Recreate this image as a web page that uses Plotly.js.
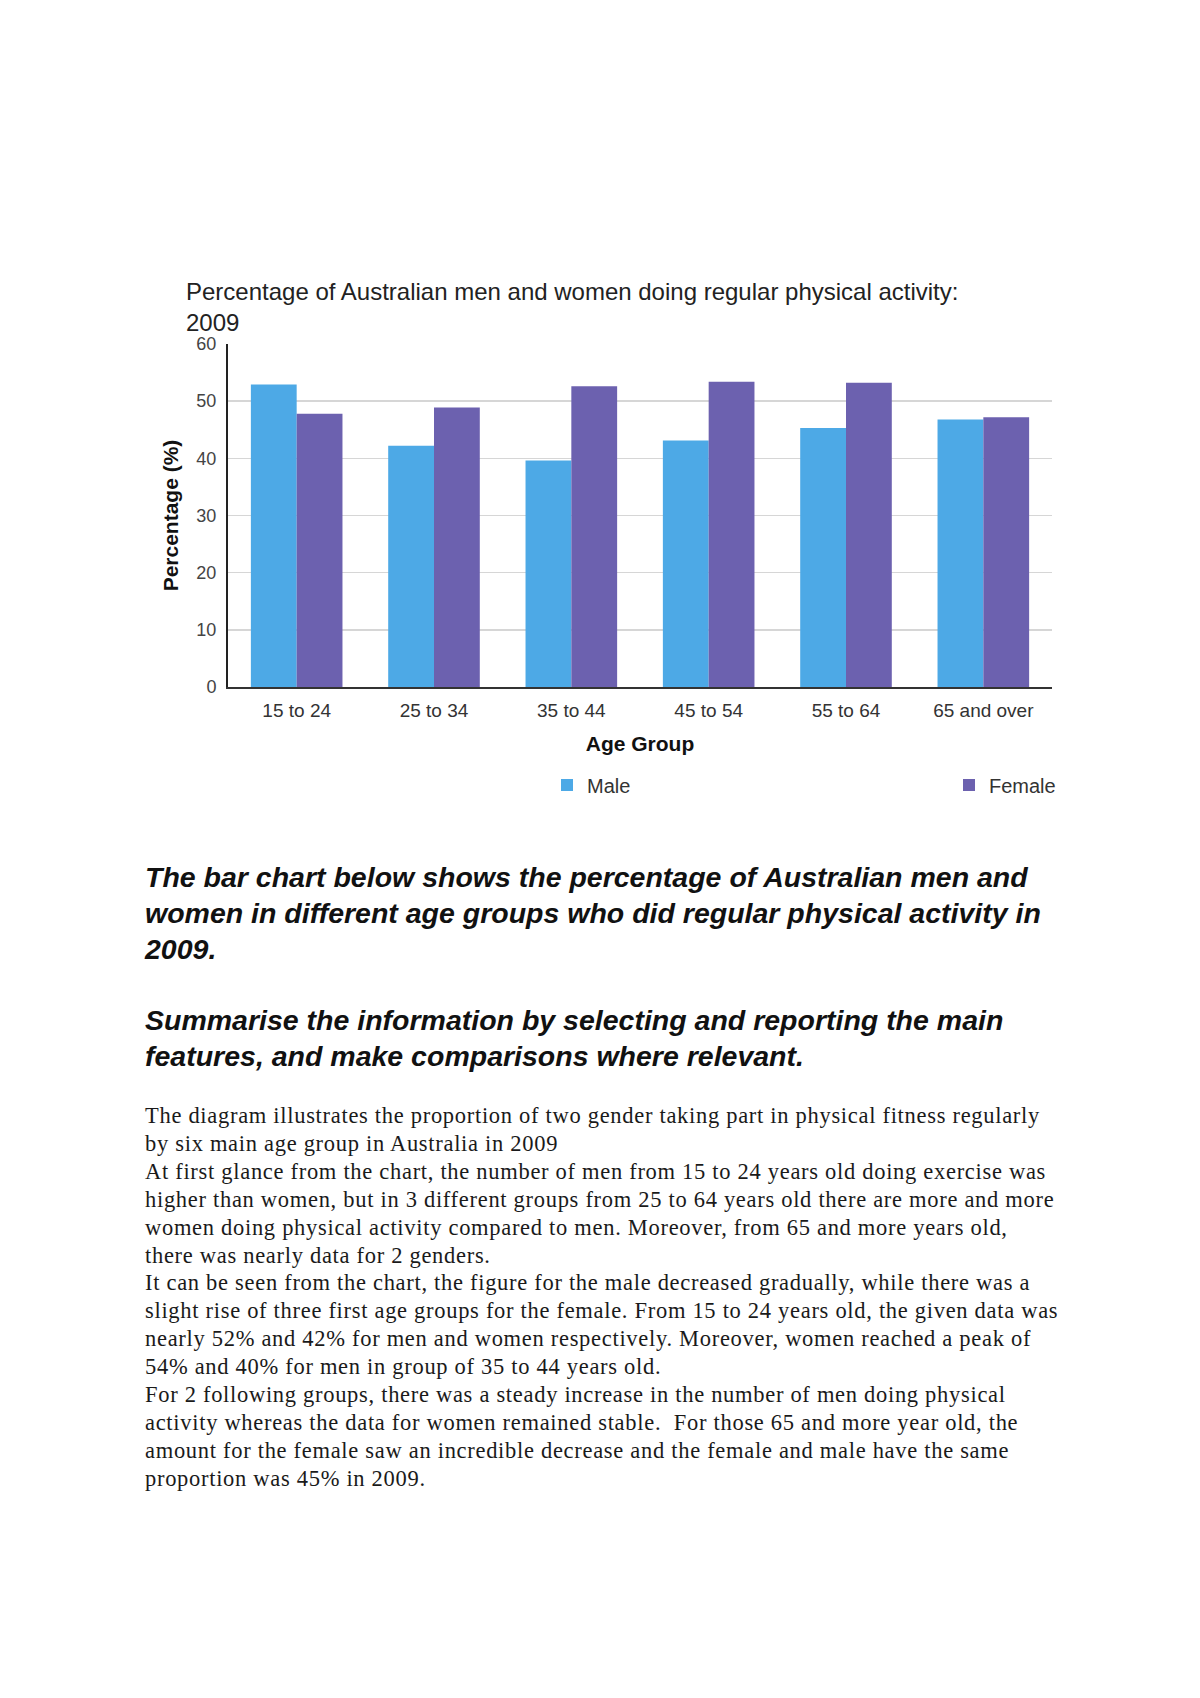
<!DOCTYPE html>
<html>
<head>
<meta charset="utf-8">
<script src="https://cdn.plot.ly/plotly-3.0.1.min.js"></script>
<style>
  html, body { margin: 0; padding: 0; background: #ffffff; }
  body { width: 1200px; height: 1698px; position: relative; overflow: hidden; }
  #chart { position: absolute; left: 0; top: 0; width: 1200px; height: 800px; }
  .prompt { position: absolute; left: 145px; font-family: "Liberation Sans", Arial, sans-serif;
            font-weight: bold; font-style: italic; font-size: 28.5px; line-height: 36px; color: #111;
            white-space: nowrap; }
  .essay { position: absolute; left: 145px; top: 1102px; font-family: "Liberation Serif", "Times New Roman", serif;
           font-size: 22.5px; line-height: 27.9px; letter-spacing: 0.7px; color: #1a1a1a; white-space: nowrap; }
</style>
</head>
<body>
<div id="chart"></div>
<div class="prompt" id="p1" style="top:859px;"></div>
<div class="prompt" id="p2" style="top:1002px;"></div>
<div class="essay" id="essay"></div>
<script>
// ---- data ----
const ageGroups = ["15 to 24", "25 to 34", "35 to 44", "45 to 54", "55 to 64", "65 and over"];
const maleValues = [52.9, 42.2, 39.6, 43.1, 45.3, 46.8];
const femaleValues = [47.8, 48.9, 52.6, 53.4, 53.2, 47.2];
const seriesNames = ["Male", "Female"];
const yTickValues = [0, 10, 20, 30, 40, 50, 60];
const chartTitle = "Percentage of Australian men and women doing regular physical activity:<br>2009";
const xAxisTitle = "Age Group";
const yAxisTitle = "Percentage (%)";

const promptLines1 = [
  "The bar chart below shows the percentage of Australian men and",
  "women in different age groups who did regular physical activity in",
  "2009."
];
const promptLines2 = [
  "Summarise the information by selecting and reporting the main",
  "features, and make comparisons where relevant."
];
const essayLines = [
  "The diagram illustrates the proportion of two gender taking part in physical fitness regularly",
  "by six main age group in Australia in 2009",
  "At first glance from the chart, the number of men from 15 to 24 years old doing exercise was",
  "higher than women, but in 3 different groups from 25 to 64 years old there are more and more",
  "women doing physical activity compared to men. Moreover, from 65 and more years old,",
  "there was nearly data for 2 genders.",
  "It can be seen from the chart, the figure for the male decreased gradually, while there was a",
  "slight rise of three first age groups for the female. From 15 to 24 years old, the given data was",
  "nearly 52% and 42% for men and women respectively. Moreover, women reached a peak of",
  "54% and 40% for men in group of 35 to 44 years old.",
  "For 2 following groups, there was a steady increase in the number of men doing physical",
  "activity whereas the data for women remained stable.\u00a0 For those 65 and more year old, the",
  "amount for the female saw an incredible decrease and the female and male have the same",
  "proportion was 45% in 2009."
];

// ---- text blocks ----
function fill(id, lines) {
  const el = document.getElementById(id);
  lines.forEach((t, i) => {
    if (i) el.appendChild(document.createElement("br"));
    el.appendChild(document.createTextNode(t));
  });
}
fill("p1", promptLines1);
fill("p2", promptLines2);
fill("essay", essayLines);

// ---- chart ----
const FONT = "Liberation Sans, Arial, sans-serif";
const traces = [
  { type: "bar", name: seriesNames[0], x: ageGroups, y: maleValues,
    marker: { color: "#4DA9E6" }, legend: "legend", hoverinfo: "x+y" },
  { type: "bar", name: seriesNames[1], x: ageGroups, y: femaleValues,
    marker: { color: "#6C61AF" }, legend: "legend2", hoverinfo: "x+y" }
];

const legendY = (687 - 785) / 343;
const layout = {
  width: 1200, height: 800,
  paper_bgcolor: "#ffffff", plot_bgcolor: "#ffffff",
  margin: { l: 228, r: 148, t: 344, b: 113, pad: 0, autoexpand: false },
  font: { family: FONT, color: "#333" },
  barmode: "group", bargap: 0.333, bargroupgap: 0,
  title: {
    text: chartTitle,
    font: { family: FONT, size: 24, color: "#222" },
    x: 186 / 1200, xref: "container", xanchor: "left",
    y: 1 - 300 / 800, yref: "container", yanchor: "top"
  },
  xaxis: {
    type: "category",
    showline: true, linecolor: "#333", linewidth: 2,
    showgrid: false, zeroline: false, ticks: "",
    tickfont: { family: FONT, size: 19, color: "#333" },
    ticklabelstandoff: 5,
    title: { text: xAxisTitle, font: { family: FONT, size: 21, color: "#111", weight: "bold" }, standoff: 17 },
    automargin: false
  },
  yaxis: {
    range: [0, 60], tickvals: yTickValues,
    showline: true, linecolor: "#222", linewidth: 2,
    showgrid: true, gridcolor: "#d6d6d6", gridwidth: 1.5,
    zeroline: false, ticks: "",
    tickfont: { family: FONT, size: 18, color: "#444" },
    ticklabelstandoff: 6,
    title: { text: yAxisTitle, font: { family: FONT, size: 21, color: "#111", weight: "bold" }, standoff: 12 },
    automargin: false
  },
  legend: {
    orientation: "h", x: (547 - 228) / 824, xanchor: "left",
    y: legendY, yanchor: "middle",
    font: { family: FONT, size: 20, color: "#333" }, bgcolor: "rgba(0,0,0,0)"
  },
  legend2: {
    orientation: "h", x: (949 - 228) / 824, xanchor: "left",
    y: legendY, yanchor: "middle",
    font: { family: FONT, size: 20, color: "#333" }, bgcolor: "rgba(0,0,0,0)"
  },
  showlegend: true
};

Plotly.newPlot("chart", traces, layout, { displayModeBar: false, staticPlot: true });
</script>
</body>
</html>
